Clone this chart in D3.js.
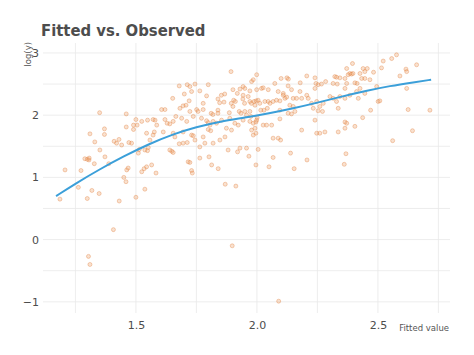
<!DOCTYPE html>
<html><head><meta charset="utf-8">
<script src="https://cdn.jsdelivr.net/npm/d3@7"></script>
<style>body{margin:0;background:#fff}svg{display:block;font-family:"DejaVu Sans",sans-serif}</style>
</head><body><svg id="c" width="474" height="355"></svg>
<script>
const title = "Fitted vs. Observed";
const xLabel = "Fitted value";
const yLabel = "log(y)";
const xTicks = [1.5, 2.0, 2.5];
const xTickLabels = ["1.5", "2.0", "2.5"];
const xMinor = [1.25, 1.75, 2.25, 2.75];
const yTicks = [-1, 0, 1, 2, 3];
const yMinor = [-0.5, 0.5, 1.5, 2.5];
const fitX = [1.17,1.25,1.35,1.45,1.55,1.65,1.75,1.85,1.95,2.05,2.15,2.25,2.35,2.45,2.55,2.65,2.72];
const fitY = [0.70,0.90,1.13,1.34,1.53,1.69,1.81,1.90,1.96,2.03,2.11,2.20,2.30,2.39,2.47,2.53,2.57];
const fittedVals = [
1.35,1.46,1.31,1.37,1.37,1.33,1.41,1.42,1.43,1.46,1.49,1.49,1.505,1.50,1.524,1.548,1.571,1.482,1.471,1.441,
1.351,1.372,1.289,1.299,1.306,1.307,1.328,1.388,1.207,1.273,1.462,1.468,1.450,1.459,1.510,1.514,1.537,1.548,1.551,1.544,
1.571,1.576,1.524,1.534,1.544,1.565,1.583,1.262,1.318,1.348,1.299,1.431,1.500,1.537,1.186,1.304,1.310,1.407,
1.648,1.654,1.716,1.723,1.730,1.733,1.764,1.802,1.813,1.840,1.920,1.967,1.996,1.869,1.913,2.050,2.067,2.139,2.154,2.207,
2.368,2.361,1.898,2.090,2.561,2.643,
1.893,1.679,1.712,1.723,1.744,1.799,1.730,1.700,1.652,1.720,1.695,1.707,1.682,1.620,1.606,1.778,1.778,1.751,1.757,1.723,
1.811,1.818,1.839,1.846,1.864,1.853,1.867,1.901,1.919,1.950,1.971,1.904,1.911,1.894,1.942,1.949,1.977,1.988,1.997,1.886,
1.927,1.934,1.901,1.839,1.792,1.764,1.579,1.620,1.629,1.640,1.654,1.665,1.586,1.689,1.710,1.737,1.771,1.792,1.799,1.806,
1.799,1.809,1.819,1.833,1.854,1.888,1.909,1.923,1.943,1.971,1.985,1.996,1.874,1.895,1.957,1.975,2.001,1.613,1.654,1.661,
1.695,1.730,1.737,1.679,1.695,1.712,1.744,1.778,1.785,1.819,1.847,1.868,1.930,1.957,1.881,1.764,1.640,2.005,1.558,
1.985,1.978,1.943,1.930,1.999,1.943,1.964,1.992,1.971,1.950,1.839,
2.577,2.557,2.522,2.395,2.371,2.439,2.456,2.482,2.515,2.616,2.619,2.660,2.591,2.384,2.391,2.397,2.377,2.426,2.446,2.343,
2.364,2.322,2.329,2.284,2.240,2.206,2.179,2.130,2.124,2.100,1.999,2.019,2.026,2.047,2.074,2.088,2.129,2.143,2.109,2.178,
2.206,2.240,2.253,2.267,2.315,2.332,2.371,2.405,2.414,2.433,2.467,2.619,2.244,1.971,2.005,2.012,2.033,2.047,2.054,2.067,
2.081,2.095,2.109,2.116,2.123,2.150,2.164,2.185,2.136,2.150,2.043,2.029,2.016,2.095,2.129,2.143,2.157,2.212,2.226,2.247,
2.260,2.274,2.302,2.315,2.329,2.343,2.364,2.384,2.412,2.336,2.419,2.446,2.426,2.501,2.508,2.470,2.625,2.715,2.253,2.233,
2.240,2.271,1.999,1.992,1.978,2.026,2.040,2.061,1.985,1.996,2.095,2.067,2.088,2.098,2.185,2.247,2.260,2.281,2.336,2.364,
2.371,2.405,2.437,2.364,2.446,2.364,2.495];
const observedVals = [
2.04,2.02,1.70,1.78,1.69,1.57,1.58,1.55,1.61,1.81,1.77,1.84,1.84,1.93,1.90,1.92,1.93,1.55,1.56,1.52,
1.44,1.33,1.30,1.29,1.28,1.31,1.22,1.22,1.12,1.11,1.12,1.15,1.00,0.93,1.39,1.45,1.44,1.43,1.48,1.71,
1.68,1.73,1.09,1.14,1.17,1.20,1.07,0.84,0.79,0.74,0.66,0.62,0.68,0.81,0.65,-0.27,-0.40,0.16,
1.42,1.40,1.25,1.24,1.11,1.07,1.31,1.33,1.20,1.14,1.41,1.34,1.20,0.89,0.86,1.17,1.32,1.39,1.14,1.28,
1.38,1.21,-0.10,-0.99,1.59,1.75,
2.70,2.47,2.49,2.46,2.50,2.49,2.38,2.34,2.27,2.23,2.15,2.16,2.11,2.09,2.09,2.19,2.09,2.09,2.06,2.06,
2.03,2.01,2.08,2.20,2.21,2.32,2.34,2.41,2.35,2.43,2.39,2.24,2.22,2.19,2.26,2.19,2.19,2.22,2.23,2.04,
2.06,2.03,2.14,2.26,2.31,2.39,1.92,1.93,1.87,1.86,1.90,1.98,1.84,1.95,1.90,1.98,1.95,1.91,1.88,1.84,
1.77,1.75,1.90,1.87,1.92,1.95,1.87,1.84,1.92,1.90,1.87,1.89,1.79,1.76,2.00,1.98,1.96,1.73,1.71,1.65,
1.73,1.68,1.67,1.54,1.55,1.56,1.60,1.65,1.55,1.55,1.60,1.65,1.47,1.47,1.44,1.49,1.44,1.45,1.60,
2.57,2.54,2.46,2.42,2.41,2.32,2.30,2.16,2.06,2.06,2.03,
2.97,2.91,2.87,2.83,2.75,2.75,2.75,2.69,2.76,2.74,2.70,2.81,2.63,2.67,2.66,2.67,2.65,2.67,2.70,2.60,
2.59,2.62,2.61,2.54,2.60,2.63,2.52,2.58,2.60,2.59,2.65,2.43,2.44,2.41,2.51,2.38,2.47,2.41,2.35,2.38,
2.32,2.43,2.49,2.50,2.51,2.50,2.51,2.52,2.51,2.59,2.57,2.43,2.51,2.22,2.24,2.19,2.22,2.22,2.19,2.22,
2.24,2.23,2.32,2.27,2.29,2.27,2.27,2.27,2.16,2.14,2.11,2.08,2.08,2.08,2.03,2.02,2.06,2.27,2.19,2.22,
2.14,2.19,2.30,2.27,2.22,2.30,2.27,2.32,2.38,2.11,2.27,2.35,2.43,2.22,2.23,2.08,2.09,2.08,2.07,2.11,
1.92,2.06,1.92,1.79,1.76,1.84,1.84,1.84,1.68,1.71,1.94,1.63,1.63,1.60,1.76,1.71,1.71,1.73,1.73,1.89,
1.87,1.82,1.96,1.79,2.59,2.43,2.46];

const svg = d3.select("#c");
const L = 43, R = 450, T = 43, B = 313;
const x = d3.scaleLinear().domain([1.116, 2.798]).range([L, R]);
const y = d3.scaleLinear().domain([-1.18, 3.16]).range([B, T]);
const grid = "#e8e8e8";

const g = svg.append("g");
g.selectAll(".hg").data(yTicks.concat(yMinor)).join("line")
  .attr("x1", L).attr("x2", R).attr("y1", d => y(d)).attr("y2", d => y(d))
  .attr("stroke", grid).attr("stroke-width", 0.8);
g.selectAll(".vg").data(xTicks.concat(xMinor)).join("line")
  .attr("y1", T).attr("y2", B).attr("x1", d => x(d)).attr("x2", d => x(d))
  .attr("stroke", grid).attr("stroke-width", 0.8);

const xAxis = d3.axisBottom(x).tickValues(xTicks).tickFormat((d, i) => xTickLabels[i]).tickSize(0).tickPadding(10);
const xa = svg.append("g").attr("transform", `translate(0,${B - 2})`).call(xAxis);
xa.select(".domain").remove();
xa.selectAll("text").attr("fill", "#4d4d4d").style("font-size", "11px").style("font-family", "DejaVu Sans, sans-serif");
const yAxis = d3.axisLeft(y).tickValues(yTicks).tickSize(0).tickPadding(4).tickFormat(d3.format("d"));
const ya = svg.append("g").attr("transform", `translate(${L},0)`).call(yAxis);
ya.select(".domain").remove();
ya.selectAll("text").attr("fill", "#4d4d4d").style("font-size", "11px").style("font-family", "DejaVu Sans, sans-serif");

const pts = fittedVals.map((v, i) => [v, observedVals[i]]);
svg.append("g").selectAll("circle").data(pts).join("circle")
  .attr("cx", d => x(d[0])).attr("cy", d => y(d[1])).attr("r", 2.0)
  .attr("fill", "#eb9a60").attr("fill-opacity", 0.3)
  .attr("stroke", "#e07b39").attr("stroke-opacity", 0.45).attr("stroke-width", 0.8);

const line = d3.line().x(d => x(d[0])).y(d => y(d[1])).curve(d3.curveBasis);
svg.append("path").datum(fitX.map((v, i) => [v, fitY[i]]))
  .attr("d", line).attr("fill", "none").attr("stroke", "#3b9fd9").attr("stroke-width", 2);

svg.append("text").attr("x", 41).attr("y", 36).text(title)
  .attr("fill", "#4d4d4d").style("font-family", "'DejaVu Sans Condensed', 'DejaVu Sans', sans-serif")
  .style("font-size", "16.5px").style("font-weight", "bold");
svg.append("text").attr("x", 449).attr("y", 331).attr("text-anchor", "end").text(xLabel)
  .attr("fill", "#555").style("font-size", "8.5px");
svg.append("text").attr("transform", "translate(31,42) rotate(-90)").attr("text-anchor", "end").text(yLabel)
  .attr("fill", "#555").style("font-size", "8.5px");
</script></body></html>
